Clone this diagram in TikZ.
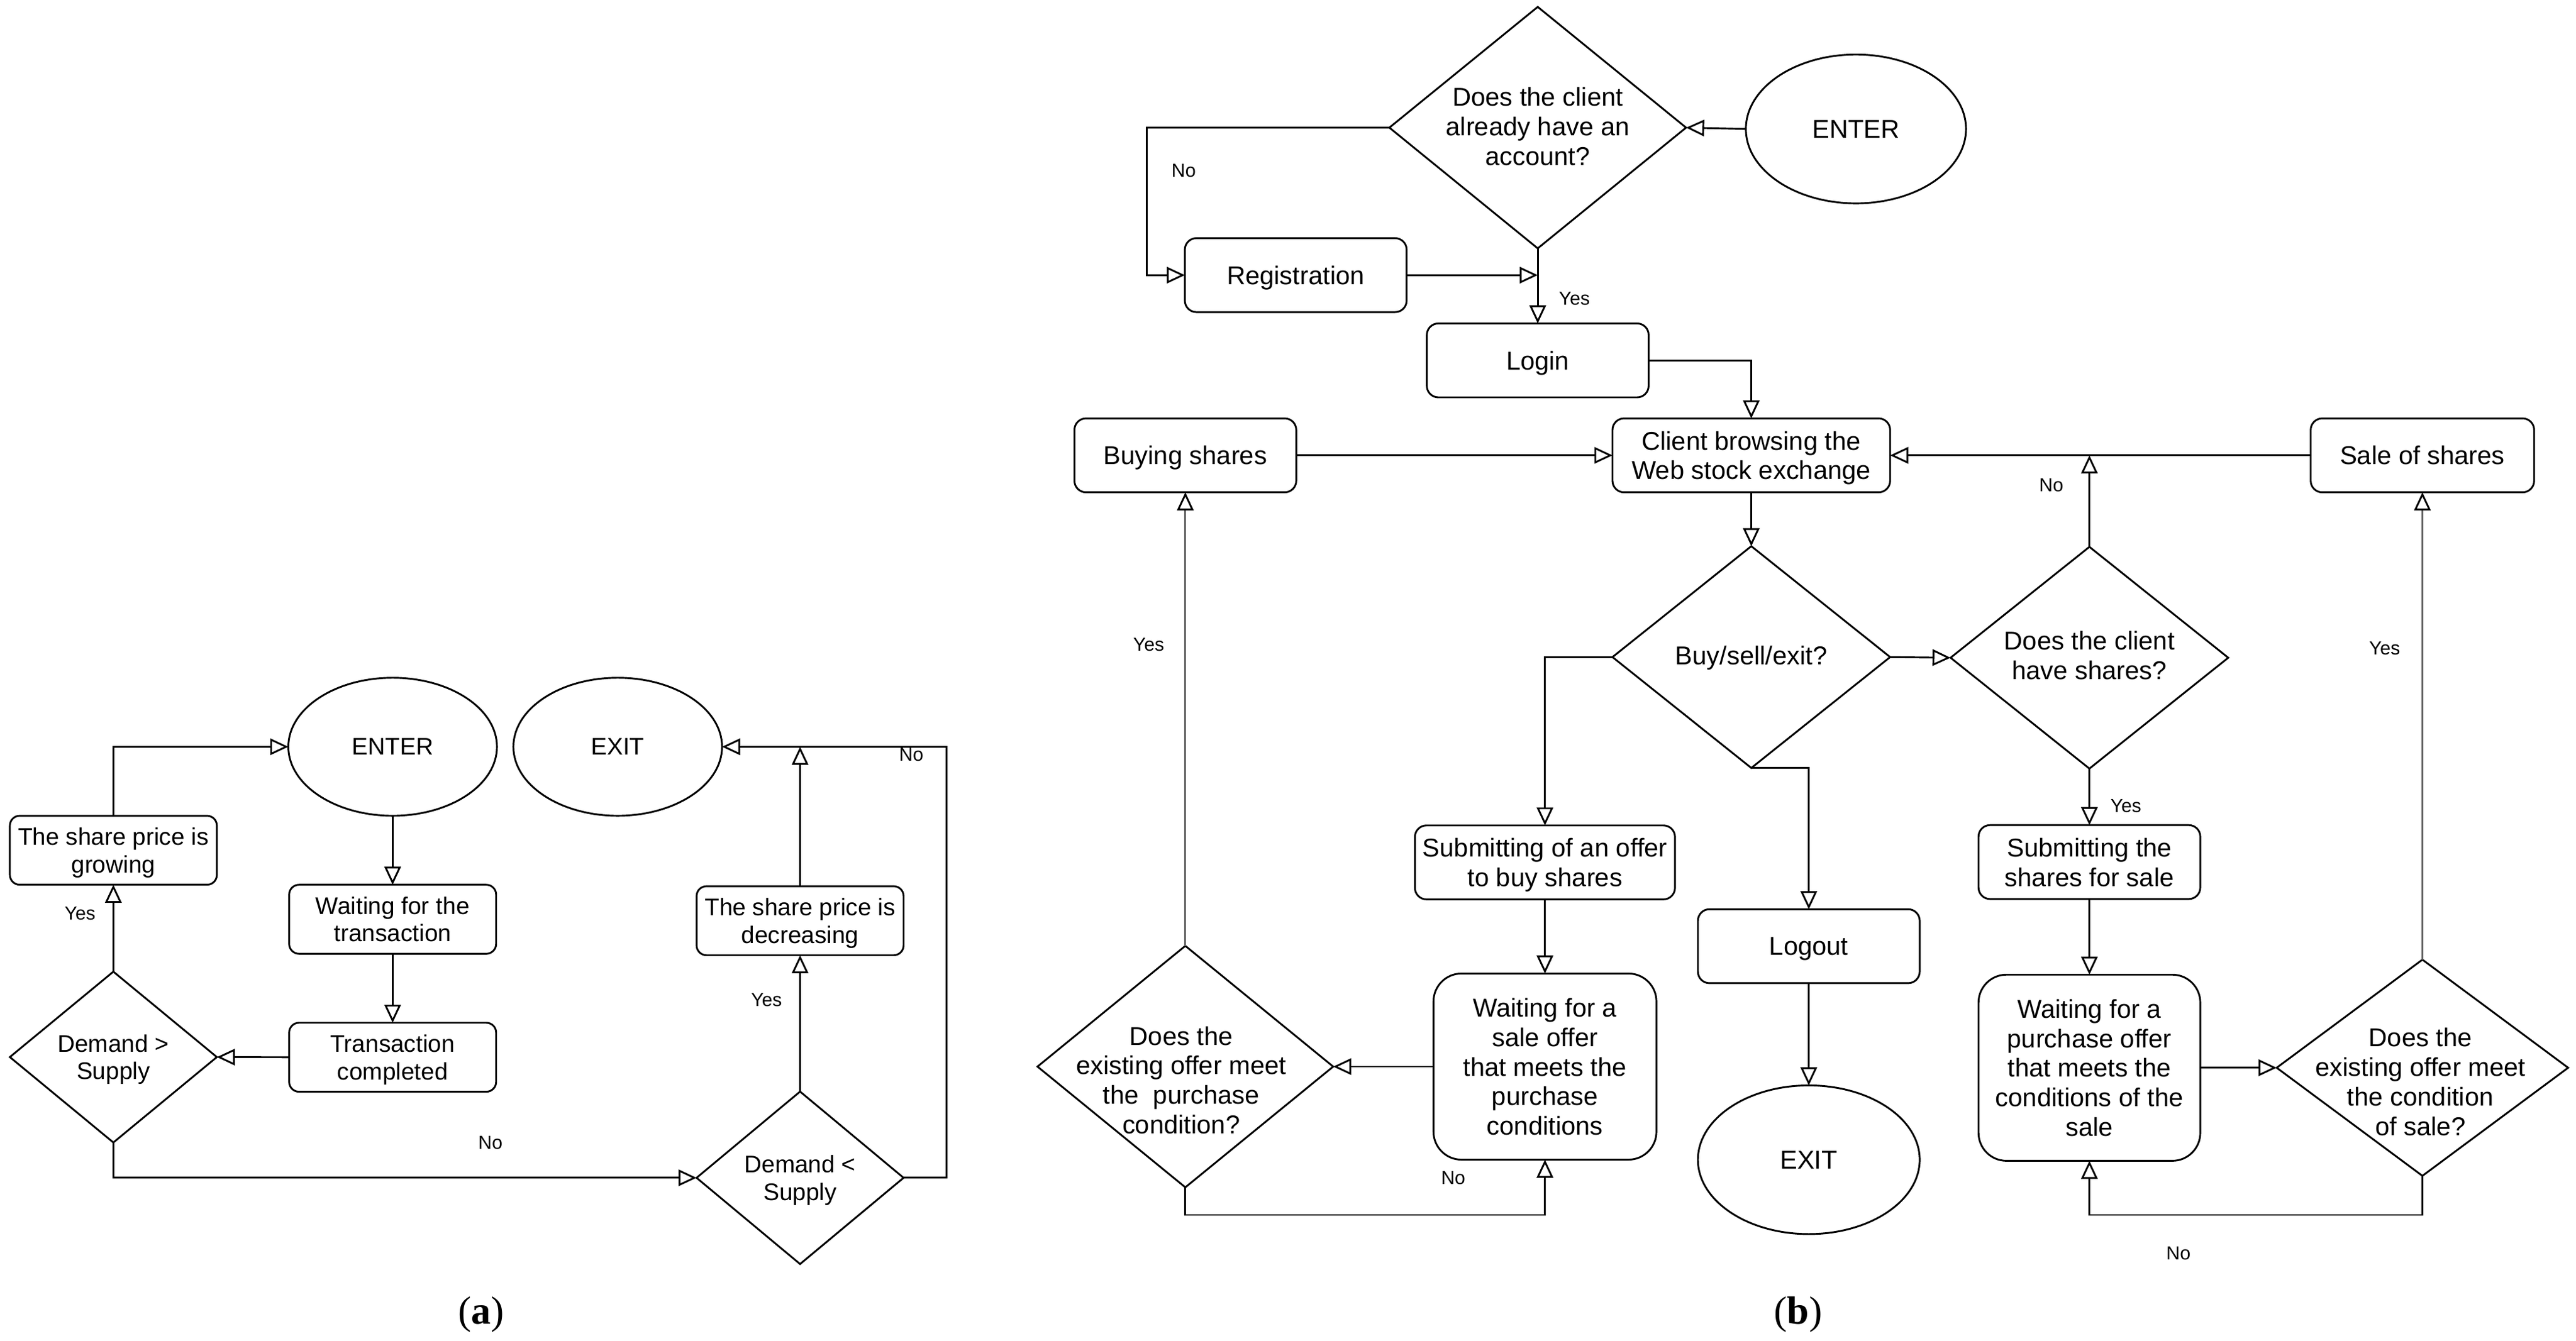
\documentclass[tikz,border=0pt]{standalone}
\usepackage{fontspec}
\setmainfont{Liberation Sans}
\newfontfamily\capfont{Liberation Serif}
\usetikzlibrary{shapes.geometric,arrows.meta}
\newcommand\fsb{\fontsize{15.7}{18}\selectfont}
\newcommand\fsa{\fontsize{14.6}{16.8}\selectfont}
\newcommand\fsl{\fontsize{11.5}{13}\selectfont}
\newcommand\fsc{\fontsize{24}{26}\selectfont}
\begin{document}
\begin{tikzpicture}[x=1pt,y=-1pt,
  every node/.style={inner sep=0pt,outer sep=0pt},
  ln/.style={line width=1.1pt,draw=black},
  arr/.style={ln,-{Triangle[length=11pt,width=10pt,fill=white,color=black]}},
  grayarr/.style={arr,draw=black!60},
  bxb/.style={draw,line width=1.1pt,rounded corners=7pt,align=center,font=\fsb,text depth=0pt,minimum width=135pt,minimum height=45pt},
  bxa/.style={draw,line width=1.1pt,rounded corners=6pt,align=center,font=\fsa,text depth=0pt,minimum width=126pt,minimum height=42pt},
  tallbx/.style={bxb,rounded corners=17pt,minimum height=113.3pt},
  dia/.style={draw,line width=1.1pt,diamond},
  ell/.style={draw,line width=1.1pt,ellipse},
  txtb/.style={align=center,font=\fsb,text depth=0pt},
  txta/.style={align=center,font=\fsa,text depth=0pt},
  lbl/.style={font=\fsl},
  captxt/.style={font=\capfont\fsc}
]
\fill[white] (0,0) rectangle (1568,816);
\useasboundingbox (0,0) rectangle (1568,816);

% ---------------- panel (a) ----------------
\node[ell,minimum width=127pt,minimum height=84pt,font=\fsa] (aEnter) at (239,454.6) {ENTER};
\node[ell,minimum width=127pt,minimum height=84pt,font=\fsa] (aExit) at (376,454.6) {EXIT};
\node[bxa] (aGrow) at (69,517.6) {The share price is\\growing};
\node[bxa] (aWait) at (239,559.6) {Waiting for the\\transaction};
\node[bxa] (aDone) at (239,643.6) {Transaction\\completed};
\node[bxa] (aDec) at (487,560.5) {The share price is\\decreasing};
\node[dia,minimum width=126pt,minimum height=104pt] (aDgt) at (69,643.5) {};
\node[txta] (aDgtT) at (aDgt) {Demand >\\Supply};
\node[dia,minimum width=126pt,minimum height=105pt] (aDlt) at (487,717) {};
\node[txta] (aDltT) at (aDlt) {Demand <\\Supply};
\coordinate (aRt) at (576,717);

\draw[arr] (aGrow.north) |- (aEnter.west);
\draw[arr] (aEnter.south) -- (aWait.north);
\draw[arr] (aWait.south) -- (aDone.north);
\draw[arr] (aDone.west) -- (aDgt.east);
\draw[arr] (aDgt.north) -- (aGrow.south);
\draw[arr] (aDgt.south) |- (aDlt.west);
\draw[arr] (aDlt.north) -- (aDec.south);
\draw[arr] (aDlt.east) -- (aRt) |- (aExit.east);
\draw[arr] (aDec.north) -- (aDec.north |- aExit.east);

\node[lbl] (aYes1) at (48.7,556) {Yes};
\node[lbl] (aNo1) at (298.5,695.8) {No};
\node[lbl] (aYes2) at (466.6,608.7) {Yes};
\node[lbl] (aNo2) at (554.7,459.4) {No};

% ---------------- panel (b) ----------------
\node[dia,minimum width=180.6pt,minimum height=147pt] (acc) at (936,77.7) {};
\node[txtb] (accT) at (936,77) {Does the client\\already have an\\account?};
\node[ell,minimum width=134pt,minimum height=90.6pt,font=\fsb] (bEnter) at (1129.7,78.5) {ENTER};
\node[bxb] (reg) at (788.7,167.5) {Registration};
\node[bxb] (login) at (936,219.4) {Login};
\node[bxb,minimum width=169pt] (client) at (1066,277.2) {Client browsing the\\Web stock exchange};
\node[bxb] (buy) at (721.5,277.2) {Buying shares};
\node[bxb,minimum width=136pt] (sale) at (1474.5,277.2) {Sale of shares};
\node[dia,minimum width=169pt,minimum height=135pt] (bse) at (1066,400) {};
\node[txtb] (bseT) at (1066,399) {Buy/sell/exit?};
\node[dia,minimum width=169pt,minimum height=135pt] (have) at (1271.8,400.4) {};
\node[txtb] (haveT) at (1271.8,399) {Does the client\\have shares?};
\node[bxb,minimum width=158.3pt] (subBuy) at (940.4,525) {Submitting of an offer\\to buy shares};
\node[bxb] (subSale) at (1271.8,524.8) {Submitting the\\shares for sale};
\node[bxb] (logout) at (1101,576) {Logout};
\node[ell,minimum width=135pt,minimum height=90.5pt,font=\fsb] (bExit) at (1101,706) {EXIT};
\node[tallbx,minimum width=135.7pt] (waitSale) at (940.4,649.3) {Waiting for a\\sale offer\\that meets the\\purchase\\conditions};
\node[dia,minimum width=180pt,minimum height=147pt] (pDia) at (721.5,649.3) {};
\node[txtb] (pDiaT) at (719,657.5) {Does the\\existing offer meet\\the\ \ purchase\\condition?};
\node[tallbx] (waitBuy) at (1271.8,650) {Waiting for a\\purchase offer\\that meets the\\conditions of the\\sale};
\node[dia,minimum width=177.4pt,minimum height=131.6pt] (sDia) at (1474.5,650) {};
\node[txtb] (sDiaT) at (1473.3,658.4) {Does the\\existing offer meet\\the condition\\of sale?};

\coordinate (bNoL) at (698.2,77.7);
\coordinate (pB) at (721.5,739.6);
\coordinate (sB) at (1474.5,739.6);

\draw[arr] (bEnter.west) -- (acc.east);
\draw[arr] (acc.west) -- (bNoL) |- (reg.west);
\draw[arr] (reg.east) -- (reg.east -| acc.south);
\draw[arr] (acc.south) -- (login.north);
\draw[arr] (login.east) -| (client.north);
\draw[arr] (buy.east) -- (client.west);
\draw[arr] (sale.west) -- (client.east);
\draw[arr] (client.south) -- (bse.north);
\draw[arr] (bse.west) -| (subBuy.north);
\draw[arr] (bse.south) -| (logout.north);
\draw[arr] (bse.east) -- (have.west);
\draw[arr] (have.north) -- (have.north |- sale.west);
\draw[arr] (have.south) -- (subSale.north);
\draw[arr] (subBuy.south) -- (waitSale.north);
\draw[arr] (logout.south) -- (bExit.north);
\draw[arr] (waitSale.west) -- (pDia.east);
\draw[grayarr] (pDia.north) -- (buy.south);
\draw[arr] (pDia.south) -- (pB) -| (waitSale.south);
\draw[arr] (subSale.south) -- (waitBuy.north);
\draw[arr] (waitBuy.east) -- (sDia.west);
\draw[grayarr] (sDia.north) -- (sale.south);
\draw[arr] (sDia.south) -- (sB) -| (waitBuy.south);

\node[lbl] (bNo1) at (720.5,103.8) {No};
\node[lbl] (bYes1) at (958.3,181.9) {Yes};
\node[lbl] (bYes2) at (699.2,392.6) {Yes};
\node[lbl] (bNo2) at (1248.6,295.2) {No};
\node[lbl] (bYes3) at (1294,490.6) {Yes};
\node[lbl] (bYes4) at (1451.5,394.7) {Yes};
\node[lbl] (bNo3) at (884.6,717) {No};
\node[lbl] (bNo4) at (1326,763) {No};

% captions
\node[captxt] (capA) at (293,800.3) {(\textbf{a})};
\node[captxt] (capB) at (1094.5,800.3) {(\textbf{b})};
\end{tikzpicture}
\end{document}
